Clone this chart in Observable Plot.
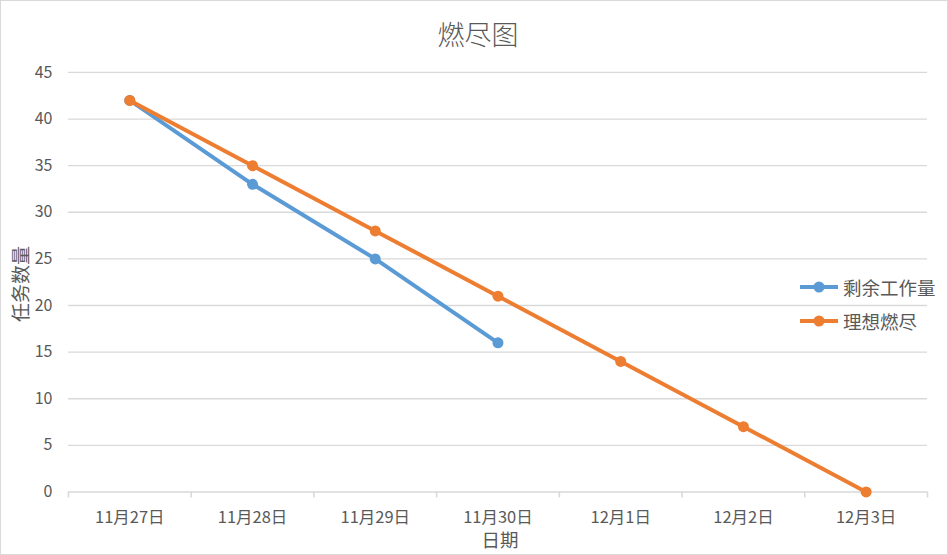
<!DOCTYPE html>
<html><head><meta charset="utf-8">
<script src="https://cdn.jsdelivr.net/npm/d3@7"></script>
<script src="https://cdn.jsdelivr.net/npm/@observablehq/plot@0.6"></script>
<style>
body{margin:0;background:#fff;}
#wrap{position:relative;width:948px;height:555px;box-sizing:border-box;border:1px solid #d9d9d9;overflow:hidden;}
#chart{position:absolute;left:-1px;top:-1px;}
.t{position:absolute;color:#595959;font-family:"Noto Sans CJK SC","Noto Sans",sans-serif;white-space:nowrap;line-height:1;}
</style></head>
<body>
<div id="wrap"><div id="chart"></div>
<div class="t" style="left:0;width:954px;top:19px;text-align:center;font-size:27px;font-weight:300;">燃尽图</div>
<div class="t" style="left:18px;top:283px;font-size:19px;transform:translate(-50%,-50%) rotate(-90deg);">任务数量</div>
<div class="t" style="left:0;width:998px;top:529px;text-align:center;font-size:18.5px;">日期</div>
<div class="t" id="legend" style="left:0;top:0;"></div>
</div>
<script>
const dates = ["11月27日","11月28日","11月29日","11月30日","12月1日","12月2日","12月3日"];
const remaining = [42, 33, 25, 16];
const ideal = [42, 35, 28, 21, 14, 7, 0];
const seriesNames = ["剩余工作量","理想燃尽"];
const colors = ["#5b9bd5","#ed7d31"];
const yTicks = [0,5,10,15,20,25,30,35,40,45];

const remData = remaining.map((v,i)=>({i, v}));
const idealData = ideal.map((v,i)=>({i, v}));
const bounds = d3.range(-0.5, dates.length, 1);

const font = '"Noto Sans CJK SC","Noto Sans",sans-serif';
const chart = Plot.plot({
  width: 948, height: 555,
  marginLeft: 68, marginRight: 20, marginTop: 72, marginBottom: 63,
  style: {fontFamily: font, fontSize: "16px", color: "#595959", background: "#fff"},
  x: {domain: [-0.5, dates.length - 0.5], axis: null},
  y: {domain: [0, 45], axis: null},
  marks: [
    Plot.gridY(yTicks.filter(t=>t>0), {stroke: "#d9d9d9", strokeOpacity: 1, strokeWidth: 1.3}),
    Plot.ruleY([0], {stroke: "#d9d9d9", strokeWidth: 1.6}),
    Plot.axisX(bounds, {tickSize: 6, tickFormat: () => "", stroke: "#d9d9d9", strokeWidth: 1.6, label: null}),
    Plot.axisX(d3.range(dates.length), {tickSize: 0, tickPadding: 19, tickFormat: i => dates[i], fill: "#595959", fontSize: 16.5, label: null}),
    Plot.axisY(yTicks, {tickSize: 0, tickPadding: 16, fill: "#595959", fontSize: 16, label: null}),
    Plot.line(remData, {x: "i", y: "v", stroke: colors[0], strokeWidth: 4}),
    Plot.dot(remData, {x: "i", y: "v", fill: colors[0], r: 5.5}),
    Plot.line(idealData, {x: "i", y: "v", stroke: colors[1], strokeWidth: 4}),
    Plot.dot(idealData, {x: "i", y: "v", fill: colors[1], r: 5.5})
  ]
});
document.getElementById("chart").appendChild(chart);

// legend
const lg = document.getElementById("legend");
lg.style.cssText = "position:absolute;left:798px;top:269px;";
seriesNames.forEach((n, k) => {
  const row = document.createElement("div");
  row.style.cssText = "display:flex;align-items:center;height:34px;font-size:18.5px;color:#595959;font-family:" + font;
  row.innerHTML = `<svg width="42" height="12" style="margin-right:2px"><line x1="1" x2="39" y1="6" y2="6" stroke="${colors[k]}" stroke-width="4"/><circle cx="20" cy="6" r="5.5" fill="${colors[k]}"/></svg><span>${n}</span>`;
  lg.appendChild(row);
});
</script>
</body></html>
